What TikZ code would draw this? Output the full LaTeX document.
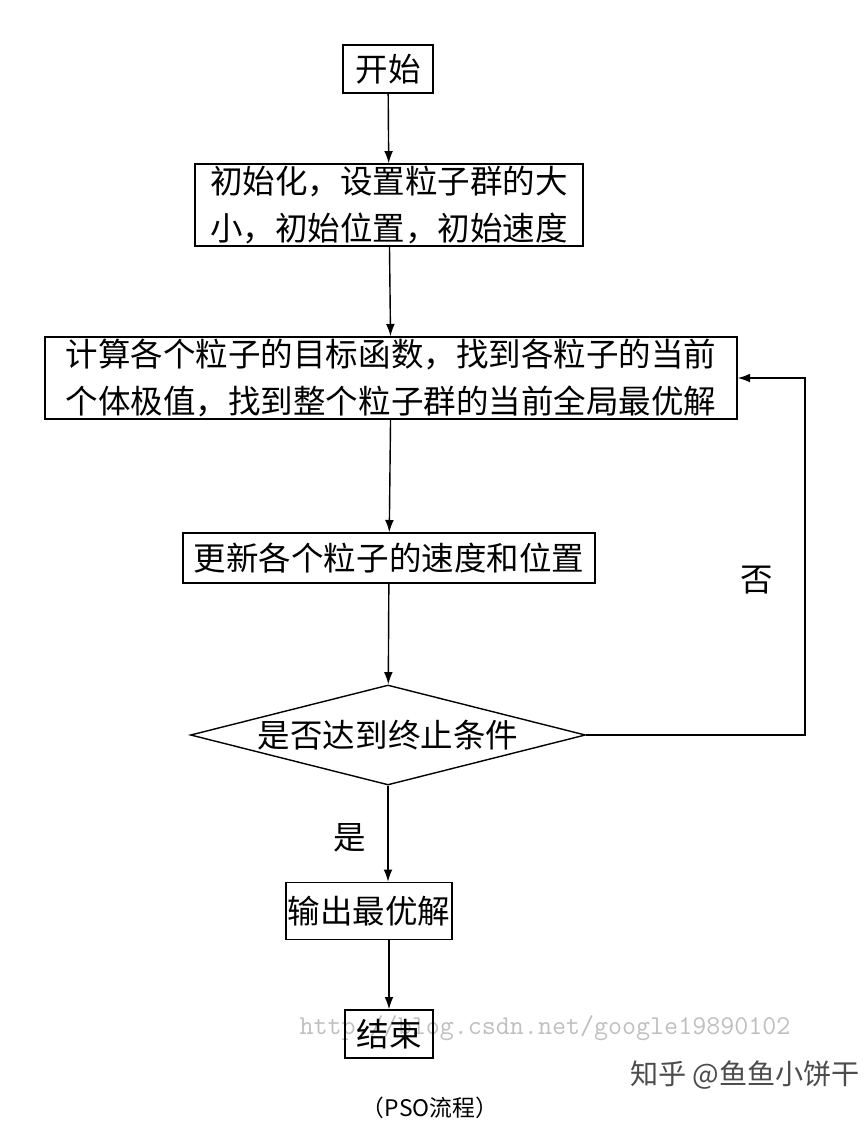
\documentclass[tikz,border=0pt]{standalone}
\usepackage{fontspec}
\setmainfont{Noto Sans CJK SC}
\usetikzlibrary{shapes.geometric,arrows.meta}
\begin{document}
\begin{tikzpicture}[x=0.02cm,y=-0.02cm,
  every node/.style={font=\fontsize{18.5}{27}\selectfont, align=center, inner sep=1pt},
  box/.style={draw, thick, rectangle},
  flow/.style={draw, thick, -{Latex[length=7pt,width=5pt]}}]
  \useasboundingbox (0,0) rectangle (865,1136);
  \node[text=black!25, font=\fontsize{15.5}{20}\ttfamily] (mark) at (545,1028) {http://blog.csdn.net/google19890102};
  \node[box, fill=white, minimum width=90*0.02cm, minimum height=48*0.02cm] (start) at (388,69) {开始};
  \node[box, minimum width=388*0.02cm, minimum height=80*0.02cm] (init) at (389,205) {初始化，设置粒子群的大\\小，初始位置，初始速度};
  \node[box, minimum width=692*0.02cm, minimum height=75*0.02cm] (eval) at (391,378) {计算各个粒子的目标函数，找到各粒子的当前\\个体极值，找到整个粒子群的当前全局最优解};
  \node[box, minimum width=412*0.02cm, minimum height=50*0.02cm] (update) at (389,558) {更新各个粒子的速度和位置};
  \node[draw, thick, diamond, aspect=3.95, minimum width=395*0.02cm, minimum height=100*0.02cm, inner sep=0pt] (check) at (388,735) {是否达到终止条件};
  \node[box, minimum width=142*0.02cm, minimum height=57*0.02cm] (output) at (369,911) {输出最优解};
  \node[box, minimum width=88*0.02cm, minimum height=48*0.02cm] (stop) at (389,1034) {结束};
  \node (yes) at (350,838) {是};
  \node (no) at (757,580) {否};
  \coordinate (loop) at (805,735);
  \node[text=black!70, font=\fontsize{16}{20}\selectfont] (zhihu) at (745,1075) {知乎 @鱼鱼小饼干};
  \node[font=\fontsize{13}{16}\selectfont] (caption) at (430,1108) {（PSO流程）};
  \draw[flow] (start) -- (init);
  \draw[flow] (init) -- (eval);
  \draw[flow] (eval) -- (update);
  \draw[flow] (update) -- (check);
  \draw[flow] (check) -- (check |- output.north);
  \draw[flow] (output.south -| stop) -- (stop);
  \draw[flow] (check.east) -- (loop) |- (eval.east);
\end{tikzpicture}
\end{document}
